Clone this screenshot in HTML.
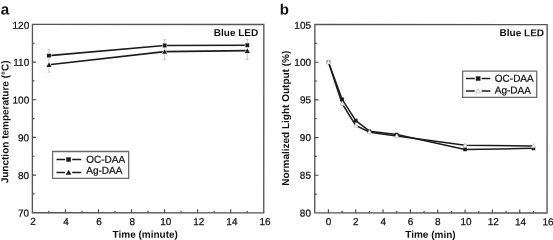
<!DOCTYPE html>
<html><head><meta charset="utf-8"><title>Figure</title>
<style>html,body{margin:0;padding:0;background:#fff}svg{display:block;filter:blur(0.35px);text-rendering:geometricPrecision}</style></head>
<body>
<svg width="553" height="240" viewBox="0 0 553 240" font-family='"Liberation Sans", Arial, Helvetica, sans-serif'>
<rect width="553" height="240" fill="#fff"/>
<g transform="rotate(0.03 276 120)">
<text x="0.7" y="14.7" font-size="15.2" font-weight="bold" fill="#111">a</text>
<text x="279.8" y="14.4" font-size="15" font-weight="bold" fill="#111">b</text>
<path d="M32.4 24.5H263.8V212.9H32.4Z" fill="none" stroke="#555" stroke-width="1.35"/>
<path d="M48.93 212.9v-2.0" stroke="#4a4a4a" stroke-width="1.15"/>
<path d="M65.46 212.9v-3.6" stroke="#4a4a4a" stroke-width="1.15"/>
<path d="M81.99 212.9v-2.0" stroke="#4a4a4a" stroke-width="1.15"/>
<path d="M98.51 212.9v-3.6" stroke="#4a4a4a" stroke-width="1.15"/>
<path d="M115.04 212.9v-2.0" stroke="#4a4a4a" stroke-width="1.15"/>
<path d="M131.57 212.9v-3.6" stroke="#4a4a4a" stroke-width="1.15"/>
<path d="M148.10 212.9v-2.0" stroke="#4a4a4a" stroke-width="1.15"/>
<path d="M164.63 212.9v-3.6" stroke="#4a4a4a" stroke-width="1.15"/>
<path d="M181.16 212.9v-2.0" stroke="#4a4a4a" stroke-width="1.15"/>
<path d="M197.69 212.9v-3.6" stroke="#4a4a4a" stroke-width="1.15"/>
<path d="M214.21 212.9v-2.0" stroke="#4a4a4a" stroke-width="1.15"/>
<path d="M230.74 212.9v-3.6" stroke="#4a4a4a" stroke-width="1.15"/>
<path d="M247.27 212.9v-2.0" stroke="#4a4a4a" stroke-width="1.15"/>
<path d="M32.4 194.06h2.0" stroke="#4a4a4a" stroke-width="1.15"/>
<path d="M32.4 175.22h3.6" stroke="#4a4a4a" stroke-width="1.15"/>
<path d="M32.4 156.38h2.0" stroke="#4a4a4a" stroke-width="1.15"/>
<path d="M32.4 137.54h3.6" stroke="#4a4a4a" stroke-width="1.15"/>
<path d="M32.4 118.70h2.0" stroke="#4a4a4a" stroke-width="1.15"/>
<path d="M32.4 99.86h3.6" stroke="#4a4a4a" stroke-width="1.15"/>
<path d="M32.4 81.02h2.0" stroke="#4a4a4a" stroke-width="1.15"/>
<path d="M32.4 62.18h3.6" stroke="#4a4a4a" stroke-width="1.15"/>
<path d="M32.4 43.34h2.0" stroke="#4a4a4a" stroke-width="1.15"/>
<text x="33.10" y="225.0" font-size="10" text-anchor="middle" fill="#111" stroke="#111" stroke-width="0.25">2</text>
<text x="66.16" y="225.0" font-size="10" text-anchor="middle" fill="#111" stroke="#111" stroke-width="0.25">4</text>
<text x="99.21" y="225.0" font-size="10" text-anchor="middle" fill="#111" stroke="#111" stroke-width="0.25">6</text>
<text x="132.27" y="225.0" font-size="10" text-anchor="middle" fill="#111" stroke="#111" stroke-width="0.25">8</text>
<text x="165.83" y="225.0" font-size="10" text-anchor="middle" fill="#111" stroke="#111" stroke-width="0.25">10</text>
<text x="198.89" y="225.0" font-size="10" text-anchor="middle" fill="#111" stroke="#111" stroke-width="0.25">12</text>
<text x="231.94" y="225.0" font-size="10" text-anchor="middle" fill="#111" stroke="#111" stroke-width="0.25">14</text>
<text x="265.00" y="225.0" font-size="10" text-anchor="middle" fill="#111" stroke="#111" stroke-width="0.25">16</text>
<text x="29.2" y="216.70" font-size="10" text-anchor="end" fill="#111" stroke="#111" stroke-width="0.25">70</text>
<text x="29.2" y="179.02" font-size="10" text-anchor="end" fill="#111" stroke="#111" stroke-width="0.25">80</text>
<text x="29.2" y="141.34" font-size="10" text-anchor="end" fill="#111" stroke="#111" stroke-width="0.25">90</text>
<text x="29.2" y="103.66" font-size="10" text-anchor="end" fill="#111" stroke="#111" stroke-width="0.25">100</text>
<text x="29.2" y="65.98" font-size="10" text-anchor="end" fill="#111" stroke="#111" stroke-width="0.25">110</text>
<text x="29.2" y="28.80" font-size="10" text-anchor="end" fill="#111" stroke="#111" stroke-width="0.25">120</text>
<text x="145.3" y="237.8" font-size="10" font-weight="bold" text-anchor="middle" fill="#111">Time (minute)</text>
<text transform="translate(8.4 122.0) rotate(-90)" font-size="10" font-weight="bold" text-anchor="middle" fill="#111">Junction temperature (°C)</text>
<text x="258.2" y="36" font-size="10" font-weight="bold" text-anchor="end" fill="#111">Blue LED</text>
<path d="M48.93 49.7V72.3M47.63 49.7h2.6M47.63 72.3h2.6" stroke="#b0b0b0" stroke-width="0.7" fill="none"/>
<path d="M164.63 39.7V59.7M163.33 39.7h2.6M163.33 59.7h2.6" stroke="#b0b0b0" stroke-width="0.7" fill="none"/>
<path d="M247.27 39.4V59.4M245.97 39.4h2.6M245.97 59.4h2.6" stroke="#b0b0b0" stroke-width="0.7" fill="none"/>
<polyline fill="none" stroke="#1c1c1c" stroke-width="1.65" points="48.93,55.77 164.63,45.60 247.27,45.22"/>
<polyline fill="none" stroke="#1c1c1c" stroke-width="1.65" points="48.93,64.82 164.63,51.63 247.27,50.69"/>
<rect x="46.48" y="53.32" width="4.90" height="4.90" fill="#fff"/>
<rect x="46.98" y="53.82" width="3.9" height="3.9" fill="#1c1c1c"/>
<rect x="162.18" y="43.15" width="4.90" height="4.90" fill="#fff"/>
<rect x="162.68" y="43.65" width="3.9" height="3.9" fill="#1c1c1c"/>
<rect x="244.82" y="42.77" width="4.90" height="4.90" fill="#fff"/>
<rect x="245.32" y="43.27" width="3.9" height="3.9" fill="#1c1c1c"/>
<path d="M48.93 62.45L51.43 67.05H46.43Z" fill="#fff" stroke="#fff" stroke-width="1.0" stroke-linejoin="miter"/>
<path d="M48.93 62.45L51.43 67.05H46.43Z" fill="#1c1c1c" stroke="none" stroke-width="0"/>
<path d="M164.63 49.26L167.13 53.86H162.13Z" fill="#fff" stroke="#fff" stroke-width="1.0" stroke-linejoin="miter"/>
<path d="M164.63 49.26L167.13 53.86H162.13Z" fill="#1c1c1c" stroke="none" stroke-width="0"/>
<path d="M247.27 48.32L249.77 52.92H244.77Z" fill="#fff" stroke="#fff" stroke-width="1.0" stroke-linejoin="miter"/>
<path d="M247.27 48.32L249.77 52.92H244.77Z" fill="#1c1c1c" stroke="none" stroke-width="0"/>
<rect x="52.6" y="151.6" width="76.1" height="26.9" fill="#fff" stroke="#6a6a6a" stroke-width="1.3"/>
<path d="M56.5 159.6H65.2M72.2 159.6H81.3M56.5 172.6H65.2M72.2 172.6H81.3" stroke="#1c1c1c" stroke-width="1.4"/>
<rect x="66.30" y="157.30" width="4.6" height="4.6" fill="#1c1c1c"/>
<path d="M68.60 169.78L71.50 174.98H65.70Z" fill="#1c1c1c" stroke="none" stroke-width="0"/>
<text x="86.3" y="162.9" font-size="10" fill="#111" stroke="#111" stroke-width="0.25">OC-DAA</text>
<text x="86.3" y="173.9" font-size="10" fill="#111" stroke="#111" stroke-width="0.25">Ag-DAA</text>
<path d="M314.8 24.5H547.1V212.9H314.8Z" fill="none" stroke="#555" stroke-width="1.35"/>
<path d="M328.46 212.9v-3.6" stroke="#4a4a4a" stroke-width="1.15"/>
<path d="M342.13 212.9v-2.0" stroke="#4a4a4a" stroke-width="1.15"/>
<path d="M355.79 212.9v-3.6" stroke="#4a4a4a" stroke-width="1.15"/>
<path d="M369.46 212.9v-2.0" stroke="#4a4a4a" stroke-width="1.15"/>
<path d="M383.12 212.9v-3.6" stroke="#4a4a4a" stroke-width="1.15"/>
<path d="M396.79 212.9v-2.0" stroke="#4a4a4a" stroke-width="1.15"/>
<path d="M410.45 212.9v-3.6" stroke="#4a4a4a" stroke-width="1.15"/>
<path d="M424.12 212.9v-2.0" stroke="#4a4a4a" stroke-width="1.15"/>
<path d="M437.78 212.9v-3.6" stroke="#4a4a4a" stroke-width="1.15"/>
<path d="M451.45 212.9v-2.0" stroke="#4a4a4a" stroke-width="1.15"/>
<path d="M465.11 212.9v-3.6" stroke="#4a4a4a" stroke-width="1.15"/>
<path d="M478.78 212.9v-2.0" stroke="#4a4a4a" stroke-width="1.15"/>
<path d="M492.44 212.9v-3.6" stroke="#4a4a4a" stroke-width="1.15"/>
<path d="M506.11 212.9v-2.0" stroke="#4a4a4a" stroke-width="1.15"/>
<path d="M519.77 212.9v-3.6" stroke="#4a4a4a" stroke-width="1.15"/>
<path d="M533.44 212.9v-2.0" stroke="#4a4a4a" stroke-width="1.15"/>
<path d="M314.8 194.06h2.0" stroke="#4a4a4a" stroke-width="1.15"/>
<path d="M314.8 175.22h3.6" stroke="#4a4a4a" stroke-width="1.15"/>
<path d="M314.8 156.38h2.0" stroke="#4a4a4a" stroke-width="1.15"/>
<path d="M314.8 137.54h3.6" stroke="#4a4a4a" stroke-width="1.15"/>
<path d="M314.8 118.70h2.0" stroke="#4a4a4a" stroke-width="1.15"/>
<path d="M314.8 99.86h3.6" stroke="#4a4a4a" stroke-width="1.15"/>
<path d="M314.8 81.02h2.0" stroke="#4a4a4a" stroke-width="1.15"/>
<path d="M314.8 62.18h3.6" stroke="#4a4a4a" stroke-width="1.15"/>
<path d="M314.8 43.34h2.0" stroke="#4a4a4a" stroke-width="1.15"/>
<text x="328.56" y="225.0" font-size="10" text-anchor="middle" fill="#111" stroke="#111" stroke-width="0.25">0</text>
<text x="355.89" y="225.0" font-size="10" text-anchor="middle" fill="#111" stroke="#111" stroke-width="0.25">2</text>
<text x="383.22" y="225.0" font-size="10" text-anchor="middle" fill="#111" stroke="#111" stroke-width="0.25">4</text>
<text x="410.55" y="225.0" font-size="10" text-anchor="middle" fill="#111" stroke="#111" stroke-width="0.25">6</text>
<text x="437.88" y="225.0" font-size="10" text-anchor="middle" fill="#111" stroke="#111" stroke-width="0.25">8</text>
<text x="466.01" y="225.0" font-size="10" text-anchor="middle" fill="#111" stroke="#111" stroke-width="0.25">10</text>
<text x="493.34" y="225.0" font-size="10" text-anchor="middle" fill="#111" stroke="#111" stroke-width="0.25">12</text>
<text x="520.67" y="225.0" font-size="10" text-anchor="middle" fill="#111" stroke="#111" stroke-width="0.25">14</text>
<text x="548.00" y="225.0" font-size="10" text-anchor="middle" fill="#111" stroke="#111" stroke-width="0.25">16</text>
<text x="311.0" y="216.40" font-size="10" text-anchor="end" fill="#111" stroke="#111" stroke-width="0.25">80</text>
<text x="311.0" y="178.72" font-size="10" text-anchor="end" fill="#111" stroke="#111" stroke-width="0.25">85</text>
<text x="311.0" y="141.04" font-size="10" text-anchor="end" fill="#111" stroke="#111" stroke-width="0.25">90</text>
<text x="311.0" y="103.36" font-size="10" text-anchor="end" fill="#111" stroke="#111" stroke-width="0.25">95</text>
<text x="311.0" y="65.68" font-size="10" text-anchor="end" fill="#111" stroke="#111" stroke-width="0.25">100</text>
<text x="311.0" y="28.70" font-size="10" text-anchor="end" fill="#111" stroke="#111" stroke-width="0.25">105</text>
<text x="430.5" y="237.8" font-size="10" font-weight="bold" text-anchor="middle" fill="#111">Time (min)</text>
<text transform="translate(289.0 118.2) rotate(-90)" font-size="10" font-weight="bold" text-anchor="middle" fill="#111">Normalized Light Output (%)</text>
<text x="544" y="36" font-size="10" font-weight="bold" text-anchor="end" fill="#111">Blue LED</text>
<polyline fill="none" stroke="#1c1c1c" stroke-width="1.5" stroke-linejoin="round" points="328.46,62.18 342.13,99.26 355.79,120.58 369.46,131.13 396.79,134.53 465.11,149.30 533.44,148.24"/>
<polyline fill="none" stroke="#1c1c1c" stroke-width="1.5" stroke-linejoin="round" points="328.46,62.18 342.13,103.63 355.79,125.48 369.46,132.11 396.79,136.03 465.11,145.23 533.44,145.83"/>
<rect x="326.66" y="60.38" width="3.6" height="3.6" fill="#1c1c1c"/>
<rect x="340.33" y="97.46" width="3.6" height="3.6" fill="#1c1c1c"/>
<rect x="353.99" y="118.78" width="3.6" height="3.6" fill="#1c1c1c"/>
<rect x="367.66" y="129.33" width="3.6" height="3.6" fill="#1c1c1c"/>
<rect x="394.99" y="132.73" width="3.6" height="3.6" fill="#1c1c1c"/>
<rect x="463.31" y="147.50" width="3.6" height="3.6" fill="#1c1c1c"/>
<rect x="531.64" y="146.44" width="3.6" height="3.6" fill="#1c1c1c"/>
<path d="M328.46 59.86L330.66 63.86H326.26Z" fill="#fff" stroke="#bbb" stroke-width="0.7"/>
<path d="M342.13 101.31L344.33 105.31H339.93Z" fill="#fff" stroke="#bbb" stroke-width="0.7"/>
<path d="M355.79 123.16L357.99 127.16H353.59Z" fill="#fff" stroke="#bbb" stroke-width="0.7"/>
<path d="M369.46 129.79L371.66 133.79H367.26Z" fill="#fff" stroke="#bbb" stroke-width="0.7"/>
<path d="M396.79 133.71L398.99 137.71H394.59Z" fill="#fff" stroke="#bbb" stroke-width="0.7"/>
<path d="M465.11 142.91L467.31 146.91H462.91Z" fill="#fff" stroke="#bbb" stroke-width="0.7"/>
<path d="M533.44 143.51L535.64 147.51H531.24Z" fill="#fff" stroke="#bbb" stroke-width="0.7"/>
<rect x="462.6" y="71.0" width="74.1" height="26.3" fill="#fff" stroke="#6a6a6a" stroke-width="1.3"/>
<path d="M466 78.4H474.7M481.6 78.4H490.3M466 90.9H474.7M481.6 90.9H490.3" stroke="#1c1c1c" stroke-width="1.4"/>
<rect x="475.80" y="76.10" width="4.6" height="4.6" fill="#1c1c1c"/>
<path d="M478.10 88.45L480.50 92.85H475.70Z" fill="#fff" stroke="#b0b0b0" stroke-width="0.7"/>
<text x="494.8" y="81.7" font-size="10" fill="#111" stroke="#111" stroke-width="0.25">OC-DAA</text>
<text x="494.8" y="93.5" font-size="10" fill="#111" stroke="#111" stroke-width="0.25">Ag-DAA</text>
</g>
</svg>
</body></html>
